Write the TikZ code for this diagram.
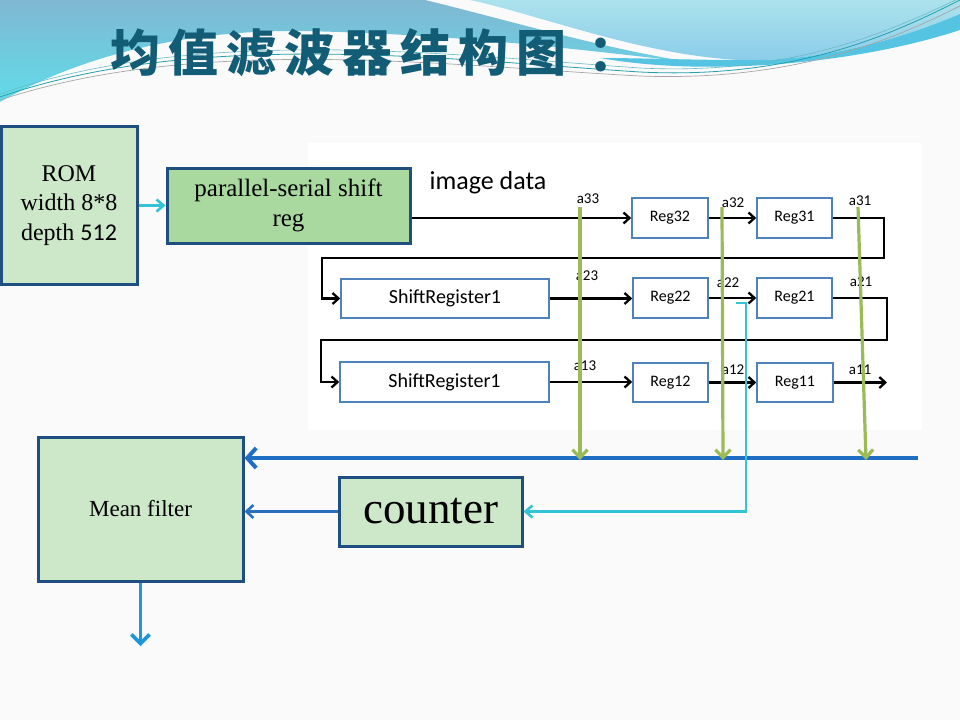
\documentclass[tikz,border=0pt]{standalone}
\usepackage{fontspec}
\setmainfont{Liberation Serif}
\newfontfamily\calib{Carlito}
\newfontfamily\cjkfont{Noto Sans CJK SC}
\usetikzlibrary{arrows.meta,calc}
\definecolor{boxborder}{RGB}{31,78,128}
\definecolor{lightgreen}{RGB}{204,232,200}
\definecolor{midgreen}{RGB}{170,217,160}
\definecolor{regblue}{RGB}{79,129,189}
\definecolor{olivegreen}{RGB}{155,187,89}
\definecolor{busblue}{RGB}{30,110,195}
\definecolor{cntblue}{RGB}{40,112,190}
\definecolor{cyanline}{RGB}{50,195,212}
\definecolor{outblue}{RGB}{30,150,215}
\definecolor{titlecol}{RGB}{18,92,118}
\definecolor{bgwhite}{RGB}{250,250,250}
\definecolor{waveA}{RGB}{128,184,210}
\definecolor{waveAb}{RGB}{96,220,234}
\definecolor{waveB}{RGB}{172,226,236}
\definecolor{waveBb}{RGB}{138,204,234}
\definecolor{waveC}{RGB}{84,196,226}
\definecolor{thinteal}{RGB}{40,160,170}
\begin{document}
\begin{tikzpicture}[x=1pt,y=-1pt,
  bigbox/.style={draw=boxborder,line width=3pt,fill=lightgreen,align=center,inner sep=0pt},
  regbox/.style={draw=regblue,line width=1.6pt,fill=white,inner sep=0pt,font=\calib\fontsize{16}{18}\selectfont},
  lbl/.style={inner sep=0pt,font=\calib\fontsize{15}{17}\selectfont},
  wire/.style={black,line width=2.3pt,-{Straight Barb[length=6pt,width=11pt]}},
  tap/.style={olivegreen,line width=3.2pt,-{Straight Barb[length=8pt,width=15pt]}},
  bus/.style={busblue,line width=4pt,-{Straight Barb[length=9pt,width=20pt]}},
  cntwire/.style={cntblue,line width=2.6pt,-{Straight Barb[length=7pt,width=13pt]}},
  cyanwire/.style={cyanline,line width=2.6pt,-{Straight Barb[length=7pt,width=12pt]}},
  outwire/.style={outblue,line width=3.6pt,-{Straight Barb[length=9pt,width=18pt]}}]
\useasboundingbox (0,0) rectangle (960,720);
% background
\fill[bgwhite] (0,0) rectangle (960,720);
\shade[top color=waveA,bottom color=waveAb]
  (0,0) -- (425,0) .. controls (500,18) and (600,48) .. (690,62)
  .. controls (580,50) and (460,34) .. (300,31)
  .. controls (170,30) and (70,62) .. (0,102) -- cycle;
\shade[top color=waveB,bottom color=waveBb]
  (470,0) .. controls (540,15) and (640,55) .. (740,60)
  .. controls (830,62) and (910,35) .. (960,14) -- (960,0) -- cycle;
\fill[waveC] (600,58) .. controls (700,76) and (850,66) .. (960,30) -- (960,14)
  .. controls (910,35) and (830,62) .. (740,60) .. controls (690,60) and (640,58) .. (600,58) -- cycle;
\draw[thinteal,line width=0.8pt] (0,97) .. controls (200,28) and (450,60) .. (640,72) .. controls (800,80) and (900,30) .. (960,0);
\draw[gray!70,line width=0.7pt] (0,100) .. controls (200,34) and (450,66) .. (640,76) .. controls (800,82) and (900,36) .. (960,6);
\draw[thinteal!70,line width=0.6pt] (0,94) .. controls (200,24) and (450,55) .. (640,68) .. controls (800,76) and (900,26) .. (960,-2);
\fill[white] (308,143) rectangle (922,430);
% title
\node[anchor=west,inner sep=0pt,text=titlecol,font=\cjkfont\bfseries\fontsize{50}{54}\selectfont] (title) at (110,53)
  {均\kern8pt值\kern8pt滤\kern8pt波\kern8pt器\kern8pt结\kern8pt构\kern8pt图\kern22pt：};
% boxes
\node[bigbox,minimum width=136pt,minimum height=158pt,font=\fontsize{24}{29.5}\selectfont] (rom) at (69,205.5)
  {ROM\\width 8*8\\depth {\calib 512}};
\node[bigbox,fill=midgreen,minimum width=243pt,minimum height=75pt,font=\fontsize{25}{30}\selectfont] (ps) at (288.5,205.5)
  {parallel-serial shift\\reg};
\node[bigbox,minimum width=205pt,minimum height=144pt,font=\fontsize{23}{26}\selectfont] (meanf) at (140.5,509) {Mean filter};
\node[bigbox,minimum width=183pt,minimum height=69pt,font=\fontsize{45}{50}\selectfont] (counter) at (430.5,511.5) {counter};
\node[inner sep=0pt,font=\calib\fontsize{26}{30}\selectfont] (imgdata) at (488,183) {image data};
% registers
\node[regbox,minimum width=76pt,minimum height=40pt] (reg32) at (670,218) {Reg32};
\node[regbox,minimum width=75pt,minimum height=40pt] (reg31) at (794.5,218) {Reg31};
\node[regbox,minimum width=208pt,minimum height=39pt,font=\calib\fontsize{20}{22}\selectfont] (sr2) at (445,298.5) {ShiftRegister1};
\node[regbox,minimum width=75pt,minimum height=40pt] (reg22) at (670.5,298) {Reg22};
\node[regbox,minimum width=75pt,minimum height=40pt] (reg21) at (794.5,298) {Reg21};
\node[regbox,minimum width=209pt,minimum height=40pt,font=\calib\fontsize{20}{22}\selectfont] (sr1) at (444.5,382) {ShiftRegister1};
\node[regbox,minimum width=75pt,minimum height=39pt] (reg12) at (670.5,382.5) {Reg12};
\node[regbox,minimum width=76pt,minimum height=39pt] (reg11) at (795,382.5) {Reg11};
% labels
\node[lbl] (la33) at (588,199) {a33};
\node[lbl] (la32) at (733,203) {a32};
\node[lbl] (la31) at (860,201) {a31};
\node[lbl] (la23) at (587,276) {a23};
\node[lbl] (la22) at (728,283) {a22};
\node[lbl] (la21) at (861,282) {a21};
\node[lbl] (la13) at (585,366) {a13};
\node[lbl] (la12) at (733,370) {a12};
\node[lbl] (la11) at (860,370) {a11};
% black wires
\draw[cyanwire] (rom) -- (ps);
\draw[wire] (ps.east |- reg32.west) -- (reg32.west);
\draw[wire] (reg32) -- (reg31);
\draw[wire] (reg31.east) -- ++(51,0) -- ++(0,40) -| ([xshift=-18pt]sr2.west) -- (sr2.west);
\draw[wire] (sr2.east) -- (sr2.east -| reg22.west);
\draw[wire] (reg22) -- (reg21);
\draw[wire] (reg21.east) -- ++(54,0) -- ++(0,42) -| ([xshift=-18pt]sr1.west) -- (sr1.west);
\draw[wire] (sr1.east) -- (sr1.east -| reg12.west);
\draw[wire] (reg12) -- (reg11);
\coordinate (out1) at (887,382.5);
\draw[wire] (reg11.east) -- (out1);
% bus and outputs
\coordinate (busR) at (918,458);
\draw[bus] (busR) -- (busR -| meanf.east);
\draw[cntwire] (counter.west) -- (counter.west -| meanf.east);
\coordinate (c0) at (736,303);
\draw[cyanwire,line join=miter] (c0) -- ++(10,0) |- (counter.east);
\coordinate (out2) at (140.5,646);
\draw[outwire] (meanf.south) -- (out2);
% taps
\coordinate (t1a) at (580,207); \coordinate (t1b) at (580,460);
\coordinate (t2a) at (722,207); \coordinate (t2b) at (723,460);
\coordinate (t3a) at (858,207); \coordinate (t3b) at (866,460);
\draw[tap] (t1a) -- (t1b);
\draw[tap] (t2a) -- (t2b);
\draw[tap] (t3a) -- (t3b);
\end{tikzpicture}
\end{document}
